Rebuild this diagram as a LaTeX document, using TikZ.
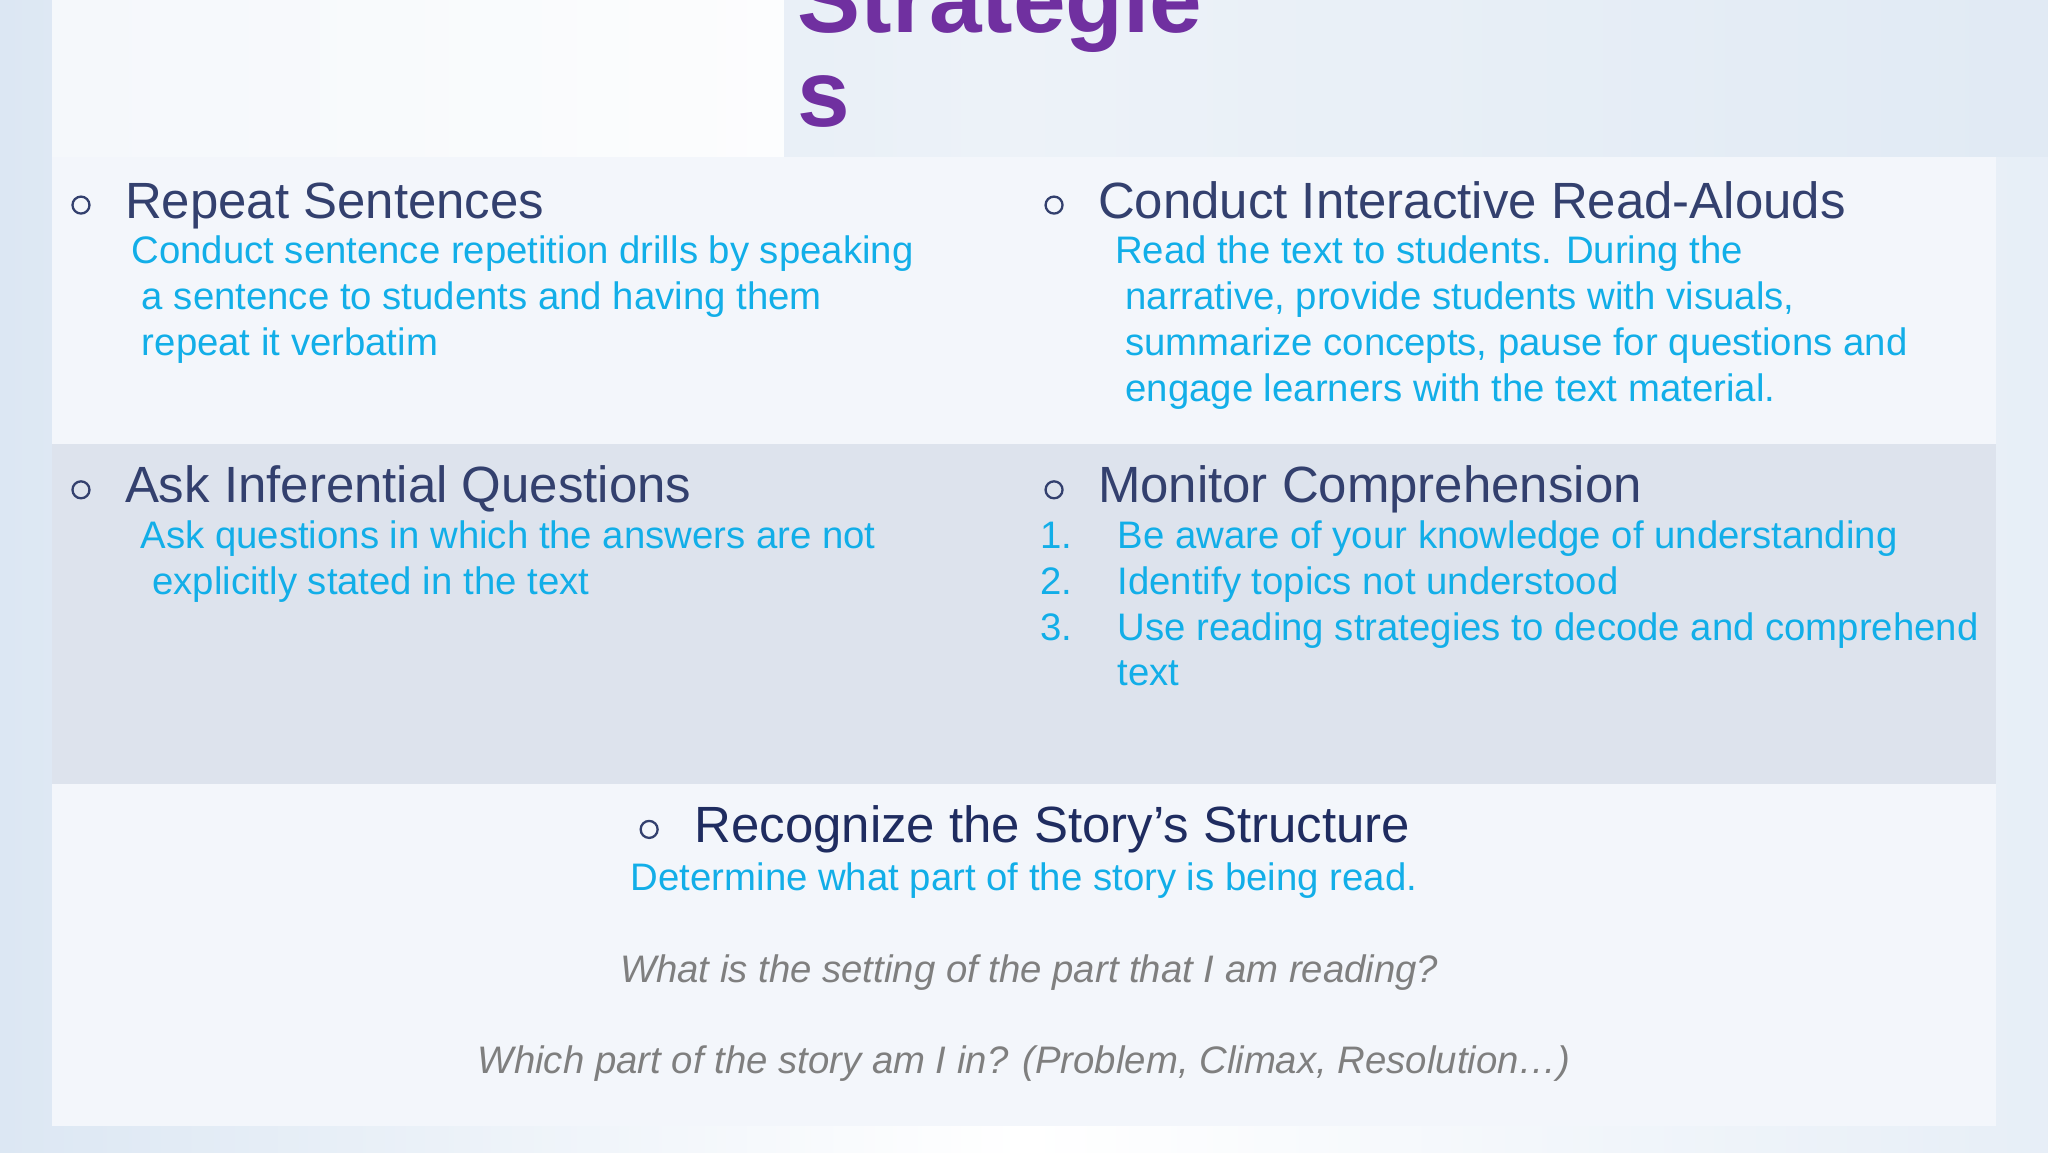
\documentclass[tikz,border=0pt]{standalone}
\usepackage{fontspec}
\setmainfont{Liberation Sans}
\definecolor{bgb}{HTML}{DCE7F3}
\definecolor{rowa}{HTML}{F3F6FB}
\definecolor{rowb}{HTML}{DDE3ED}
\definecolor{head}{HTML}{33406E}
\definecolor{headd}{HTML}{1F2C60}
\definecolor{body}{HTML}{12AEE8}
\definecolor{ttl}{HTML}{7030A0}
\definecolor{gr}{HTML}{7F7F7F}
\tikzset{
 hd/.style={anchor=base west,inner sep=0,text=head,font=\fontsize{11.1}{13}\selectfont},
 bd/.style={anchor=base west,inner sep=0,text=body,font=\fontsize{8.35}{10}\selectfont},
 it/.style={anchor=base,inner sep=0,text=gr,font=\fontsize{8.35}{10}\selectfont\itshape},
 bul/.style={circle,draw=head,line width=0.5pt,minimum size=0.13cm,inner sep=0},
}
\begin{document}
\begin{tikzpicture}
\useasboundingbox (0,0) rectangle (15.68,-8.82);
\shade[left color=bgb,right color=bgb!70!white,middle color=white] (0,0) rectangle (15.68,-8.82);
\fill[bgb,opacity=0.5] (6.0,0) rectangle (15.68,-1.2);
\fill[white,opacity=0.7] (0.4,0) rectangle (6.0,-1.2);
\fill[rowa] (0.4,-1.2) rectangle (15.28,-3.4);
\fill[rowb] (0.4,-3.4) rectangle (15.28,-6.0);
\fill[rowa] (0.4,-6.0) rectangle (15.28,-8.62);
\begin{scope}
\clip (0,0) rectangle (15.68,-8.82);
\node[anchor=base west,inner sep=0,text=ttl,font=\fontsize{20.6}{24}\selectfont\bfseries] (t1) at (6.1,-0.25) {Strategie};
\node[anchor=base west,inner sep=0,text=ttl,font=\fontsize{20.6}{24}\selectfont\bfseries] (t2) at (6.1,-0.97) {s};
\end{scope}
% row 1 left
\node[bul] (b1) at (0.62,-1.57) {};
\node[hd] (h1) at (0.95,-1.67) {Repeat Sentences};
\node[bd] (l1a) at (1.00,-2.02) {Conduct sentence repetition drills by speaking};
\node[bd] (l1b) at (1.08,-2.37) {a sentence to students and having them};
\node[bd] (l1c) at (1.08,-2.72) {repeat it verbatim};
% row 1 right
\node[bul] (b2) at (8.07,-1.57) {};
\node[hd] (h2) at (8.40,-1.67) {Conduct Interactive Read-Alouds};
\node[bd] (r1a) at (8.53,-2.02) {Read the text to students. During the};
\node[bd] (r1b) at (8.61,-2.37) {narrative, provide students with visuals,};
\node[bd] (r1c) at (8.61,-2.72) {summarize concepts, pause for questions and};
\node[bd] (r1d) at (8.61,-3.07) {engage learners with the text material.};
% row 2 left
\node[bul] (b3) at (0.62,-3.75) {};
\node[hd] (h3) at (0.95,-3.85) {Ask Inferential Questions};
\node[bd] (l2a) at (1.07,-4.20) {Ask questions in which the answers are not};
\node[bd] (l2b) at (1.16,-4.55) {explicitly stated in the text};
% row 2 right
\node[bul] (b4) at (8.07,-3.75) {};
\node[hd] (h4) at (8.40,-3.85) {Monitor Comprehension};
\node[bd] (n1) at (7.96,-4.20) {1.};
\node[bd] (n2) at (7.96,-4.55) {2.};
\node[bd] (n3) at (7.96,-4.90) {3.};
\node[bd] (m1) at (8.55,-4.20) {Be aware of your knowledge of understanding};
\node[bd] (m2) at (8.55,-4.55) {Identify topics not understood};
\node[bd] (m3) at (8.55,-4.90) {Use reading strategies to decode and comprehend};
\node[bd] (m4) at (8.55,-5.25) {text};
% row 3
\node[bul] (b5) at (4.97,-6.35) {};
\node[hd,text=headd] (h5) at (5.31,-6.45) {Recognize the Story’s Structure};
\node[anchor=base,inner sep=0,text=body,font=\fontsize{8.35}{10}\selectfont] (s1) at (7.84,-6.82) {Determine what part of the story is being read.};
\node[it] (s2) at (7.88,-7.52) {What is the setting of the part that I am reading?};
\node[it] (s3) at (7.84,-8.22) {Which part of the story am I in? (Problem, Climax, Resolution…)};
\end{tikzpicture}
\end{document}
